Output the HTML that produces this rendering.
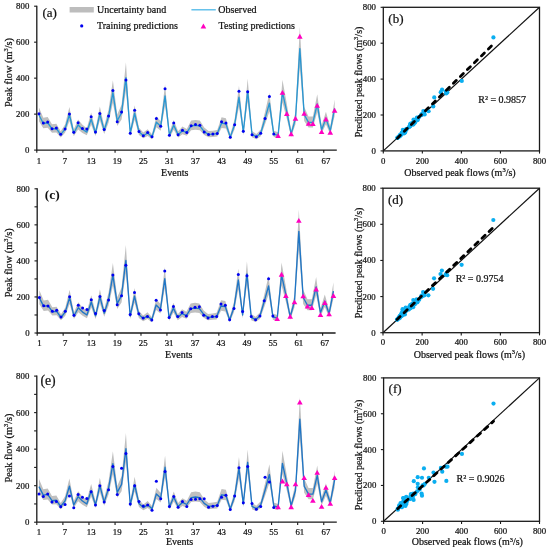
<!DOCTYPE html>
<html><head><meta charset="utf-8"><title>Peak flow predictions</title>
<style>html,body{margin:0;padding:0;background:#fff;}svg{display:block;}</style></head>
<body><svg width="548" height="550" viewBox="0 0 548 550" font-family="'Liberation Serif','Times New Roman',serif" fill="#111">
<style>text{stroke:#111;stroke-width:0.22px;}</style>
<rect width="548" height="550" fill="#fff"/>
<polygon fill="#c0c0c0" points="38.97,107.48 43.32,117.75 47.67,116.88 52.02,124.31 56.37,123.87 60.71,131.3 65.06,124.53 69.41,107.05 73.76,129.56 78.1,119.5 82.45,124.75 86.8,128.25 91.15,112.51 95.5,129.34 99.84,106.39 104.19,126.06 108.54,109.67 112.89,80.16 117.23,114.48 121.58,104.86 125.93,62.24 130.28,129.56 134.63,105.3 138.97,127.81 143.32,132.62 147.67,129.34 152.02,134.15 156.37,116.23 160.71,121.25 165.06,84.32 169.41,131.96 173.76,119.94 178.1,131.3 182.45,126.5 186.8,128.9 191.15,120.6 195.5,119.94 199.84,120.6 204.19,127.59 208.54,131.09 212.89,130.65 217.23,129.99 221.58,117.32 225.93,118.19 230.28,134.36 234.63,119.28 238.97,85.85 243.32,128.25 247.67,78.42 252.02,131.09 256.37,133.93 260.71,129.56 265.06,111.85 269.41,93.06 273.76,130.65 278.1,132.18 282.45,79.73 286.8,103.77 291.15,130.43 295.5,111.85 299.84,26.84 304.19,107.05 308.54,116.44 312.89,116.44 317.23,94.15 321.58,125.62 325.93,111.64 330.28,126.72 334.63,99.4 334.63,115.88 330.28,134.32 325.93,124.14 321.58,133.58 317.23,112.34 312.89,127.39 308.54,127.39 304.19,121.04 299.84,66.91 295.5,124.29 291.15,136.83 286.8,118.83 282.45,102.61 278.1,138.01 273.76,136.97 269.41,111.6 265.06,124.29 260.71,136.24 256.37,139.19 252.02,137.27 247.67,101.72 243.32,135.35 238.97,106.74 234.63,129.3 230.28,139.48 225.93,128.57 221.58,127.98 217.23,136.53 212.89,136.97 208.54,137.27 204.19,134.91 199.84,130.19 195.5,129.75 191.15,130.19 186.8,135.79 182.45,134.17 178.1,137.42 173.76,129.75 169.41,137.86 165.06,105.7 160.71,130.63 156.37,127.24 152.02,139.33 147.67,136.09 143.32,138.3 138.97,135.06 134.63,119.86 130.28,136.24 125.93,90.81 121.58,119.57 117.23,126.06 112.89,102.9 108.54,122.81 104.19,133.88 99.84,120.6 95.5,136.09 91.15,124.73 86.8,135.35 82.45,132.99 78.1,129.45 73.76,136.24 69.41,121.04 65.06,132.84 60.71,137.42 56.37,132.4 52.02,132.7 47.67,127.68 43.32,128.27 38.97,121.34"/>
<polyline fill="none" stroke="#2896d2" stroke-width="1.35" stroke-linejoin="round" points="38.97,115.02 43.32,123.48 47.67,122.76 52.02,128.87 56.37,128.51 60.71,134.63 65.06,129.05 69.41,114.66 73.76,133.19 78.1,124.92 82.45,129.23 86.8,132.11 91.15,119.16 95.5,133.01 99.84,114.12 104.19,130.31 108.54,116.82 112.89,92.54 117.23,120.78 121.58,112.87 125.93,77.79 130.28,133.19 134.63,113.23 138.97,131.75 143.32,135.71 147.67,133.01 152.02,136.97 156.37,122.22 160.71,126.36 165.06,95.96 169.41,135.17 173.76,125.28 178.1,134.63 182.45,130.67 186.8,132.65 191.15,125.82 195.5,125.28 199.84,125.82 204.19,131.57 208.54,134.45 212.89,134.09 217.23,133.55 221.58,123.12 225.93,123.84 230.28,137.15 234.63,124.74 238.97,97.22 243.32,132.11 247.67,91.1 252.02,134.45 256.37,136.79 260.71,133.19 265.06,118.62 269.41,103.15 273.76,134.09 278.1,135.35 282.45,92.18 286.8,111.97 291.15,133.91 295.5,118.62 299.84,48.65 304.19,114.66 308.54,122.4 312.89,122.4 317.23,104.05 321.58,129.95 325.93,118.44 330.28,130.85 334.63,108.37"/>
<circle cx="38.97" cy="113.77" r="1.5" fill="#0000f0"/>
<circle cx="43.32" cy="122.94" r="1.5" fill="#0000f0"/>
<circle cx="47.67" cy="122.04" r="1.5" fill="#0000f0"/>
<circle cx="52.02" cy="128.69" r="1.5" fill="#0000f0"/>
<circle cx="56.37" cy="127.98" r="1.5" fill="#0000f0"/>
<circle cx="60.71" cy="134.27" r="1.5" fill="#0000f0"/>
<circle cx="65.06" cy="129.05" r="1.5" fill="#0000f0"/>
<circle cx="69.41" cy="114.12" r="1.5" fill="#0000f0"/>
<circle cx="73.76" cy="132.29" r="1.5" fill="#0000f0"/>
<circle cx="78.1" cy="122.76" r="1.5" fill="#0000f0"/>
<circle cx="82.45" cy="128.51" r="1.5" fill="#0000f0"/>
<circle cx="86.8" cy="129.05" r="1.5" fill="#0000f0"/>
<circle cx="91.15" cy="116.82" r="1.5" fill="#0000f0"/>
<circle cx="95.5" cy="132.11" r="1.5" fill="#0000f0"/>
<circle cx="99.84" cy="113.41" r="1.5" fill="#0000f0"/>
<circle cx="104.19" cy="129.59" r="1.5" fill="#0000f0"/>
<circle cx="108.54" cy="115.92" r="1.5" fill="#0000f0"/>
<circle cx="112.89" cy="90.56" r="1.5" fill="#0000f0"/>
<circle cx="117.23" cy="121.68" r="1.5" fill="#0000f0"/>
<circle cx="121.58" cy="111.97" r="1.5" fill="#0000f0"/>
<circle cx="125.93" cy="79.95" r="1.5" fill="#0000f0"/>
<circle cx="130.28" cy="133.19" r="1.5" fill="#0000f0"/>
<circle cx="134.63" cy="110.17" r="1.5" fill="#0000f0"/>
<circle cx="138.97" cy="131.57" r="1.5" fill="#0000f0"/>
<circle cx="143.32" cy="135.71" r="1.5" fill="#0000f0"/>
<circle cx="147.67" cy="132.47" r="1.5" fill="#0000f0"/>
<circle cx="152.02" cy="136.79" r="1.5" fill="#0000f0"/>
<circle cx="156.37" cy="118.62" r="1.5" fill="#0000f0"/>
<circle cx="160.71" cy="126.36" r="1.5" fill="#0000f0"/>
<circle cx="165.06" cy="88.76" r="1.5" fill="#0000f0"/>
<circle cx="169.41" cy="135.17" r="1.5" fill="#0000f0"/>
<circle cx="173.76" cy="123.12" r="1.5" fill="#0000f0"/>
<circle cx="178.1" cy="134.63" r="1.5" fill="#0000f0"/>
<circle cx="182.45" cy="130.13" r="1.5" fill="#0000f0"/>
<circle cx="186.8" cy="132.47" r="1.5" fill="#0000f0"/>
<circle cx="191.15" cy="125.64" r="1.5" fill="#0000f0"/>
<circle cx="195.5" cy="124.56" r="1.5" fill="#0000f0"/>
<circle cx="199.84" cy="125.28" r="1.5" fill="#0000f0"/>
<circle cx="204.19" cy="131.93" r="1.5" fill="#0000f0"/>
<circle cx="208.54" cy="134.45" r="1.5" fill="#0000f0"/>
<circle cx="212.89" cy="133.91" r="1.5" fill="#0000f0"/>
<circle cx="217.23" cy="133.55" r="1.5" fill="#0000f0"/>
<circle cx="221.58" cy="121.68" r="1.5" fill="#0000f0"/>
<circle cx="225.93" cy="122.94" r="1.5" fill="#0000f0"/>
<circle cx="230.28" cy="137.15" r="1.5" fill="#0000f0"/>
<circle cx="234.63" cy="124.74" r="1.5" fill="#0000f0"/>
<circle cx="238.97" cy="91.28" r="1.5" fill="#0000f0"/>
<circle cx="243.32" cy="131.21" r="1.5" fill="#0000f0"/>
<circle cx="247.67" cy="91.64" r="1.5" fill="#0000f0"/>
<circle cx="252.02" cy="134.81" r="1.5" fill="#0000f0"/>
<circle cx="256.37" cy="136.79" r="1.5" fill="#0000f0"/>
<circle cx="260.71" cy="133.19" r="1.5" fill="#0000f0"/>
<circle cx="265.06" cy="118.62" r="1.5" fill="#0000f0"/>
<circle cx="269.41" cy="96.5" r="1.5" fill="#0000f0"/>
<circle cx="273.76" cy="133.91" r="1.5" fill="#0000f0"/>
<polygon fill="#ff00c0" points="278.1,133.11 280.9,138.01 275.3,138.01"/>
<polygon fill="#ff00c0" points="282.45,89.94 285.25,94.84 279.65,94.84"/>
<polygon fill="#ff00c0" points="286.8,110.99 289.6,115.89 284,115.89"/>
<polygon fill="#ff00c0" points="291.15,131.31 293.95,136.21 288.35,136.21"/>
<polygon fill="#ff00c0" points="295.5,115.84 298.3,120.74 292.7,120.74"/>
<polygon fill="#ff00c0" points="299.84,33.82 302.64,38.72 297.04,38.72"/>
<polygon fill="#ff00c0" points="304.19,110.81 306.99,115.71 301.39,115.71"/>
<polygon fill="#ff00c0" points="308.54,120.88 311.34,125.78 305.74,125.78"/>
<polygon fill="#ff00c0" points="312.89,121.06 315.69,125.96 310.09,125.96"/>
<polygon fill="#ff00c0" points="317.23,102.89 320.03,107.79 314.43,107.79"/>
<polygon fill="#ff00c0" points="321.58,129.15 324.38,134.05 318.78,134.05"/>
<polygon fill="#ff00c0" points="325.93,116.56 328.73,121.46 323.13,121.46"/>
<polygon fill="#ff00c0" points="330.28,129.87 333.08,134.77 327.48,134.77"/>
<polygon fill="#ff00c0" points="334.63,107.75 337.43,112.65 331.83,112.65"/>
<path d="M36.8 5.7V150.1H336.8" fill="none" stroke="#1a1a1a" stroke-width="1.3"/>
<line x1="34.1" y1="150.1" x2="36.8" y2="150.1" stroke="#1a1a1a" stroke-width="1.1"/>
<text x="29.3" y="153.1" text-anchor="end" font-size="8.8">0</text>
<line x1="34.1" y1="114.12" x2="36.8" y2="114.12" stroke="#1a1a1a" stroke-width="1.1"/>
<text x="29.3" y="117.12" text-anchor="end" font-size="8.8">200</text>
<line x1="34.1" y1="78.15" x2="36.8" y2="78.15" stroke="#1a1a1a" stroke-width="1.1"/>
<text x="29.3" y="81.15" text-anchor="end" font-size="8.8">400</text>
<line x1="34.1" y1="42.17" x2="36.8" y2="42.17" stroke="#1a1a1a" stroke-width="1.1"/>
<text x="29.3" y="45.17" text-anchor="end" font-size="8.8">600</text>
<line x1="34.1" y1="6.2" x2="36.8" y2="6.2" stroke="#1a1a1a" stroke-width="1.1"/>
<text x="29.3" y="9.2" text-anchor="end" font-size="8.8">800</text>
<line x1="36.8" y1="150.1" x2="36.8" y2="152.8" stroke="#1a1a1a" stroke-width="1.1"/>
<text x="38.97" y="163.5" text-anchor="middle" font-size="8.8">1</text>
<line x1="62.89" y1="150.1" x2="62.89" y2="152.8" stroke="#1a1a1a" stroke-width="1.1"/>
<text x="65.06" y="163.5" text-anchor="middle" font-size="8.8">7</text>
<line x1="88.97" y1="150.1" x2="88.97" y2="152.8" stroke="#1a1a1a" stroke-width="1.1"/>
<text x="91.15" y="163.5" text-anchor="middle" font-size="8.8">13</text>
<line x1="115.06" y1="150.1" x2="115.06" y2="152.8" stroke="#1a1a1a" stroke-width="1.1"/>
<text x="117.23" y="163.5" text-anchor="middle" font-size="8.8">19</text>
<line x1="141.15" y1="150.1" x2="141.15" y2="152.8" stroke="#1a1a1a" stroke-width="1.1"/>
<text x="143.32" y="163.5" text-anchor="middle" font-size="8.8">25</text>
<line x1="167.23" y1="150.1" x2="167.23" y2="152.8" stroke="#1a1a1a" stroke-width="1.1"/>
<text x="169.41" y="163.5" text-anchor="middle" font-size="8.8">31</text>
<line x1="193.32" y1="150.1" x2="193.32" y2="152.8" stroke="#1a1a1a" stroke-width="1.1"/>
<text x="195.5" y="163.5" text-anchor="middle" font-size="8.8">37</text>
<line x1="219.41" y1="150.1" x2="219.41" y2="152.8" stroke="#1a1a1a" stroke-width="1.1"/>
<text x="221.58" y="163.5" text-anchor="middle" font-size="8.8">43</text>
<line x1="245.5" y1="150.1" x2="245.5" y2="152.8" stroke="#1a1a1a" stroke-width="1.1"/>
<text x="247.67" y="163.5" text-anchor="middle" font-size="8.8">49</text>
<line x1="271.58" y1="150.1" x2="271.58" y2="152.8" stroke="#1a1a1a" stroke-width="1.1"/>
<text x="273.76" y="163.5" text-anchor="middle" font-size="8.8">55</text>
<line x1="297.67" y1="150.1" x2="297.67" y2="152.8" stroke="#1a1a1a" stroke-width="1.1"/>
<text x="299.84" y="163.5" text-anchor="middle" font-size="8.8">61</text>
<line x1="323.76" y1="150.1" x2="323.76" y2="152.8" stroke="#1a1a1a" stroke-width="1.1"/>
<text x="325.93" y="163.5" text-anchor="middle" font-size="8.8">67</text>
<text x="174.7" y="175.7" text-anchor="middle" font-size="10">Events</text>
<text transform="translate(11.8,72.5) rotate(-90)" text-anchor="middle" font-size="10.3">Peak flow (m<tspan font-size="6.5" dy="-3.5">3</tspan><tspan dy="3.5">/s)</tspan></text>
<text x="42.4" y="16.9" font-size="13">(a)</text>
<polygon fill="#c0c0c0" points="39.36,290.29 43.69,300.59 48.01,299.71 52.34,307.16 56.66,306.72 60.99,314.17 65.31,307.38 69.63,289.86 73.96,312.41 78.28,302.34 82.61,307.6 86.93,311.1 91.26,295.33 95.58,312.19 99.91,289.2 104.23,308.91 108.56,292.48 112.88,262.92 117.21,297.3 121.53,287.67 125.86,244.96 130.18,312.41 134.5,288.1 138.83,310.66 143.15,315.48 147.48,312.19 151.8,317.01 156.13,299.05 160.45,304.09 164.78,267.08 169.1,314.82 173.43,302.78 177.75,314.17 182.08,309.35 186.4,311.76 190.72,303.43 195.05,302.78 199.37,303.43 203.7,310.44 208.02,313.95 212.35,313.51 216.67,312.85 221,300.15 225.32,301.03 229.65,317.23 233.97,302.12 238.3,268.61 242.62,311.1 246.94,261.17 251.27,313.95 255.59,316.79 259.92,312.41 264.24,294.67 268.57,275.84 272.89,313.51 277.22,315.04 281.54,262.48 285.87,286.57 290.19,313.29 294.52,294.67 298.84,209.48 303.17,289.86 307.49,299.27 311.81,299.27 316.14,276.94 320.46,308.47 324.79,294.46 329.11,309.57 333.44,282.19 333.44,298.71 329.11,317.18 324.79,306.99 320.46,316.45 316.14,295.16 311.81,310.24 307.49,310.24 303.17,303.88 298.84,249.64 294.52,307.13 290.19,319.7 285.87,301.67 281.54,285.41 277.22,320.88 272.89,319.85 268.57,294.42 264.24,307.13 259.92,319.11 255.59,322.06 251.27,320.14 246.94,284.52 242.62,318.22 238.3,289.55 233.97,312.16 229.65,322.36 225.32,311.42 221,310.83 216.67,319.4 212.35,319.85 208.02,320.14 203.7,317.78 199.37,313.05 195.05,312.6 190.72,313.05 186.4,318.66 182.08,317.04 177.75,320.29 173.43,312.6 169.1,320.73 164.78,288.51 160.45,313.49 156.13,310.09 151.8,322.21 147.48,318.96 143.15,321.18 138.83,317.92 134.5,302.7 130.18,319.11 125.86,273.58 121.53,302.4 117.21,308.91 112.88,285.7 108.56,305.66 104.23,316.74 99.91,303.44 95.58,318.96 91.26,307.58 86.93,318.22 82.61,315.85 78.28,312.31 73.96,319.11 69.63,303.88 65.31,315.71 60.99,320.29 56.66,315.26 52.34,315.56 48.01,310.53 43.69,311.12 39.36,304.18"/>
<polyline fill="none" stroke="#1f76c6" stroke-width="1.35" stroke-linejoin="round" points="39.36,297.85 43.69,306.32 48.01,305.6 52.34,311.73 56.66,311.37 60.99,317.5 65.31,311.91 69.63,297.49 73.96,316.06 78.28,307.76 82.61,312.09 86.93,314.98 91.26,302 95.58,315.88 99.91,296.95 104.23,313.17 108.56,299.65 112.88,275.32 117.21,303.62 121.53,295.69 125.86,260.54 130.18,316.06 134.5,296.05 138.83,314.61 143.15,318.58 147.48,315.88 151.8,319.84 156.13,305.06 160.45,309.21 164.78,278.74 169.1,318.04 173.43,308.13 177.75,317.5 182.08,313.53 186.4,315.52 190.72,308.67 195.05,308.13 199.37,308.67 203.7,314.43 208.02,317.32 212.35,316.96 216.67,316.42 221,305.96 225.32,306.68 229.65,320.02 233.97,307.58 238.3,280.01 242.62,314.98 246.94,273.88 251.27,317.32 255.59,319.66 259.92,316.06 264.24,301.46 268.57,285.95 272.89,316.96 277.22,318.22 281.54,274.96 285.87,294.79 290.19,316.78 294.52,301.46 298.84,231.34 303.17,297.49 307.49,305.24 311.81,305.24 316.14,286.86 320.46,312.81 324.79,301.28 329.11,313.71 333.44,291.18"/>
<circle cx="39.36" cy="297.49" r="1.5" fill="#0000f0"/>
<circle cx="43.69" cy="305.78" r="1.5" fill="#0000f0"/>
<circle cx="48.01" cy="305.96" r="1.5" fill="#0000f0"/>
<circle cx="52.34" cy="311.19" r="1.5" fill="#0000f0"/>
<circle cx="56.66" cy="310.29" r="1.5" fill="#0000f0"/>
<circle cx="60.99" cy="316.96" r="1.5" fill="#0000f0"/>
<circle cx="65.31" cy="311.19" r="1.5" fill="#0000f0"/>
<circle cx="69.63" cy="296.77" r="1.5" fill="#0000f0"/>
<circle cx="73.96" cy="315.16" r="1.5" fill="#0000f0"/>
<circle cx="78.28" cy="305.24" r="1.5" fill="#0000f0"/>
<circle cx="82.61" cy="307.95" r="1.5" fill="#0000f0"/>
<circle cx="86.93" cy="309.57" r="1.5" fill="#0000f0"/>
<circle cx="91.26" cy="299.83" r="1.5" fill="#0000f0"/>
<circle cx="95.58" cy="313.53" r="1.5" fill="#0000f0"/>
<circle cx="99.91" cy="296.41" r="1.5" fill="#0000f0"/>
<circle cx="104.23" cy="310.47" r="1.5" fill="#0000f0"/>
<circle cx="108.56" cy="300.01" r="1.5" fill="#0000f0"/>
<circle cx="112.88" cy="274.96" r="1.5" fill="#0000f0"/>
<circle cx="117.21" cy="304.7" r="1.5" fill="#0000f0"/>
<circle cx="121.53" cy="295.69" r="1.5" fill="#0000f0"/>
<circle cx="125.86" cy="265.23" r="1.5" fill="#0000f0"/>
<circle cx="130.18" cy="314.43" r="1.5" fill="#0000f0"/>
<circle cx="134.5" cy="292.44" r="1.5" fill="#0000f0"/>
<circle cx="138.83" cy="313.71" r="1.5" fill="#0000f0"/>
<circle cx="143.15" cy="318.04" r="1.5" fill="#0000f0"/>
<circle cx="147.48" cy="316.42" r="1.5" fill="#0000f0"/>
<circle cx="151.8" cy="320.02" r="1.5" fill="#0000f0"/>
<circle cx="156.13" cy="300.37" r="1.5" fill="#0000f0"/>
<circle cx="160.45" cy="309.93" r="1.5" fill="#0000f0"/>
<circle cx="164.78" cy="270.99" r="1.5" fill="#0000f0"/>
<circle cx="169.1" cy="317.5" r="1.5" fill="#0000f0"/>
<circle cx="173.43" cy="306.5" r="1.5" fill="#0000f0"/>
<circle cx="177.75" cy="316.42" r="1.5" fill="#0000f0"/>
<circle cx="182.08" cy="312.45" r="1.5" fill="#0000f0"/>
<circle cx="186.4" cy="315.88" r="1.5" fill="#0000f0"/>
<circle cx="190.72" cy="308.85" r="1.5" fill="#0000f0"/>
<circle cx="195.05" cy="307.22" r="1.5" fill="#0000f0"/>
<circle cx="199.37" cy="306.86" r="1.5" fill="#0000f0"/>
<circle cx="203.7" cy="315.16" r="1.5" fill="#0000f0"/>
<circle cx="208.02" cy="318.04" r="1.5" fill="#0000f0"/>
<circle cx="212.35" cy="316.42" r="1.5" fill="#0000f0"/>
<circle cx="216.67" cy="316.42" r="1.5" fill="#0000f0"/>
<circle cx="221" cy="303.98" r="1.5" fill="#0000f0"/>
<circle cx="225.32" cy="305.24" r="1.5" fill="#0000f0"/>
<circle cx="229.65" cy="319.84" r="1.5" fill="#0000f0"/>
<circle cx="233.97" cy="308.49" r="1.5" fill="#0000f0"/>
<circle cx="238.3" cy="274.42" r="1.5" fill="#0000f0"/>
<circle cx="242.62" cy="311.55" r="1.5" fill="#0000f0"/>
<circle cx="246.94" cy="275.68" r="1.5" fill="#0000f0"/>
<circle cx="251.27" cy="316.42" r="1.5" fill="#0000f0"/>
<circle cx="255.59" cy="319.66" r="1.5" fill="#0000f0"/>
<circle cx="259.92" cy="315.88" r="1.5" fill="#0000f0"/>
<circle cx="264.24" cy="300.74" r="1.5" fill="#0000f0"/>
<circle cx="268.57" cy="278.74" r="1.5" fill="#0000f0"/>
<circle cx="272.89" cy="315.88" r="1.5" fill="#0000f0"/>
<polygon fill="#ff00c0" points="277.22,316.16 280.02,321.06 274.42,321.06"/>
<polygon fill="#ff00c0" points="281.54,271.82 284.34,276.72 278.74,276.72"/>
<polygon fill="#ff00c0" points="285.87,293.09 288.67,297.99 283.07,297.99"/>
<polygon fill="#ff00c0" points="290.19,313.82 292.99,318.72 287.39,318.72"/>
<polygon fill="#ff00c0" points="294.52,299.4 297.32,304.3 291.72,304.3"/>
<polygon fill="#ff00c0" points="298.84,217.92 301.64,222.82 296.04,222.82"/>
<polygon fill="#ff00c0" points="303.17,293.45 305.97,298.35 300.37,298.35"/>
<polygon fill="#ff00c0" points="307.49,303.72 310.29,308.62 304.69,308.62"/>
<polygon fill="#ff00c0" points="311.81,304.98 314.61,309.88 309.01,309.88"/>
<polygon fill="#ff00c0" points="316.14,286.6 318.94,291.5 313.34,291.5"/>
<polygon fill="#ff00c0" points="320.46,312.19 323.26,317.09 317.66,317.09"/>
<polygon fill="#ff00c0" points="324.79,300.12 327.59,305.02 321.99,305.02"/>
<polygon fill="#ff00c0" points="329.11,311.47 331.91,316.37 326.31,316.37"/>
<polygon fill="#ff00c0" points="333.44,293.09 336.24,297.99 330.64,297.99"/>
<path d="M37.2 188.3V333H335.6" fill="none" stroke="#1a1a1a" stroke-width="1.3"/>
<line x1="34.5" y1="333" x2="37.2" y2="333" stroke="#1a1a1a" stroke-width="1.1"/>
<text x="29.7" y="336" text-anchor="end" font-size="8.8">0</text>
<line x1="34.5" y1="314.98" x2="37.2" y2="314.98" stroke="#1a1a1a" stroke-width="1.1"/>
<line x1="34.5" y1="296.95" x2="37.2" y2="296.95" stroke="#1a1a1a" stroke-width="1.1"/>
<text x="29.7" y="299.95" text-anchor="end" font-size="8.8">200</text>
<line x1="34.5" y1="278.93" x2="37.2" y2="278.93" stroke="#1a1a1a" stroke-width="1.1"/>
<line x1="34.5" y1="260.9" x2="37.2" y2="260.9" stroke="#1a1a1a" stroke-width="1.1"/>
<text x="29.7" y="263.9" text-anchor="end" font-size="8.8">400</text>
<line x1="34.5" y1="242.88" x2="37.2" y2="242.88" stroke="#1a1a1a" stroke-width="1.1"/>
<line x1="34.5" y1="224.85" x2="37.2" y2="224.85" stroke="#1a1a1a" stroke-width="1.1"/>
<text x="29.7" y="227.85" text-anchor="end" font-size="8.8">600</text>
<line x1="34.5" y1="206.83" x2="37.2" y2="206.83" stroke="#1a1a1a" stroke-width="1.1"/>
<line x1="34.5" y1="188.8" x2="37.2" y2="188.8" stroke="#1a1a1a" stroke-width="1.1"/>
<text x="29.7" y="191.8" text-anchor="end" font-size="8.8">800</text>
<line x1="37.2" y1="333" x2="37.2" y2="335.7" stroke="#1a1a1a" stroke-width="1.1"/>
<text x="39.36" y="345.6" text-anchor="middle" font-size="8.8">1</text>
<line x1="63.15" y1="333" x2="63.15" y2="335.7" stroke="#1a1a1a" stroke-width="1.1"/>
<text x="65.31" y="345.6" text-anchor="middle" font-size="8.8">7</text>
<line x1="89.1" y1="333" x2="89.1" y2="335.7" stroke="#1a1a1a" stroke-width="1.1"/>
<text x="91.26" y="345.6" text-anchor="middle" font-size="8.8">13</text>
<line x1="115.04" y1="333" x2="115.04" y2="335.7" stroke="#1a1a1a" stroke-width="1.1"/>
<text x="117.21" y="345.6" text-anchor="middle" font-size="8.8">19</text>
<line x1="140.99" y1="333" x2="140.99" y2="335.7" stroke="#1a1a1a" stroke-width="1.1"/>
<text x="143.15" y="345.6" text-anchor="middle" font-size="8.8">25</text>
<line x1="166.94" y1="333" x2="166.94" y2="335.7" stroke="#1a1a1a" stroke-width="1.1"/>
<text x="169.1" y="345.6" text-anchor="middle" font-size="8.8">31</text>
<line x1="192.89" y1="333" x2="192.89" y2="335.7" stroke="#1a1a1a" stroke-width="1.1"/>
<text x="195.05" y="345.6" text-anchor="middle" font-size="8.8">37</text>
<line x1="218.83" y1="333" x2="218.83" y2="335.7" stroke="#1a1a1a" stroke-width="1.1"/>
<text x="221" y="345.6" text-anchor="middle" font-size="8.8">43</text>
<line x1="244.78" y1="333" x2="244.78" y2="335.7" stroke="#1a1a1a" stroke-width="1.1"/>
<text x="246.94" y="345.6" text-anchor="middle" font-size="8.8">49</text>
<line x1="270.73" y1="333" x2="270.73" y2="335.7" stroke="#1a1a1a" stroke-width="1.1"/>
<text x="272.89" y="345.6" text-anchor="middle" font-size="8.8">55</text>
<line x1="296.68" y1="333" x2="296.68" y2="335.7" stroke="#1a1a1a" stroke-width="1.1"/>
<text x="298.84" y="345.6" text-anchor="middle" font-size="8.8">61</text>
<line x1="322.63" y1="333" x2="322.63" y2="335.7" stroke="#1a1a1a" stroke-width="1.1"/>
<text x="324.79" y="345.6" text-anchor="middle" font-size="8.8">67</text>
<text x="178.7" y="357.6" text-anchor="middle" font-size="10">Events</text>
<text transform="translate(11.8,262.8) rotate(-90)" text-anchor="middle" font-size="10.3">Peak flow (m<tspan font-size="6.5" dy="-3.5">3</tspan><tspan dy="3.5">/s)</tspan></text>
<text x="44.8" y="199.4" font-size="13.5" font-weight="bold" style="stroke-width:0">(c)</text>
<polygon fill="#c0c0c0" points="38.97,478.93 43.32,489.36 47.67,488.47 52.02,496.02 56.37,495.57 60.71,503.12 65.06,496.24 69.41,478.49 73.76,501.34 78.1,491.14 82.45,496.46 86.8,500.01 91.15,484.04 95.5,501.12 99.84,477.82 104.19,497.79 108.54,481.15 112.89,451.2 117.23,486.03 121.58,476.27 125.93,433 130.28,501.34 134.63,476.71 138.97,499.57 143.32,504.45 147.67,501.12 152.02,506 156.37,487.81 160.71,492.91 165.06,455.41 169.41,503.78 173.76,491.58 178.1,503.12 182.45,498.24 186.8,500.68 191.15,492.24 195.5,491.58 199.84,492.24 204.19,499.35 208.54,502.9 212.89,502.45 217.23,501.79 221.58,488.92 225.93,489.8 230.28,506.22 234.63,490.91 238.97,456.96 243.32,500.01 247.67,449.42 252.02,502.9 256.37,505.78 260.71,501.34 265.06,483.37 269.41,464.29 273.76,502.45 278.1,504.01 282.45,450.75 286.8,475.16 291.15,502.23 295.5,483.37 299.84,397.05 304.19,478.49 308.54,488.03 312.89,488.03 317.23,465.4 321.58,497.35 325.93,483.15 330.28,498.46 334.63,470.72 334.63,487.46 330.28,506.18 325.93,495.84 321.58,505.43 317.23,483.86 312.89,499.14 308.54,499.14 304.19,492.7 299.84,437.74 295.5,495.99 291.15,508.72 286.8,490.45 282.45,473.98 278.1,509.92 273.76,508.87 269.41,483.11 265.06,495.99 260.71,508.12 256.37,511.12 252.02,509.17 247.67,473.08 243.32,507.22 238.97,478.17 234.63,501.08 230.28,511.42 225.93,500.34 221.58,499.74 217.23,508.42 212.89,508.87 208.54,509.17 204.19,506.78 199.84,501.98 195.5,501.53 191.15,501.98 186.8,507.67 182.45,506.03 178.1,509.32 173.76,501.53 169.41,509.77 165.06,477.12 160.71,502.43 156.37,498.99 152.02,511.27 147.67,507.97 143.32,510.22 138.97,506.93 134.63,491.5 130.28,508.12 125.93,462 121.58,491.2 117.23,497.79 112.89,474.28 108.54,494.5 104.19,505.73 99.84,492.25 95.5,507.97 91.15,496.44 86.8,507.22 82.45,504.83 78.1,501.23 73.76,508.12 69.41,492.7 65.06,504.68 60.71,509.32 56.37,504.23 52.02,504.53 47.67,499.44 43.32,500.04 38.97,493"/>
<polyline fill="none" stroke="#1f76c6" stroke-width="1.35" stroke-linejoin="round" points="38.97,486.59 43.32,495.17 47.67,494.44 52.02,500.65 56.37,500.29 60.71,506.49 65.06,500.83 69.41,486.22 73.76,505.03 78.1,496.63 82.45,501.02 86.8,503.94 91.15,490.79 95.5,504.85 99.84,485.68 104.19,502.11 108.54,488.41 112.89,463.76 117.23,492.43 121.58,484.4 125.93,448.78 130.28,505.03 134.63,484.76 138.97,503.57 143.32,507.59 147.67,504.85 152.02,508.87 156.37,493.89 160.71,498.09 165.06,467.23 169.41,507.04 173.76,497 178.1,506.49 182.45,502.48 186.8,504.49 191.15,497.55 195.5,497 199.84,497.55 204.19,503.39 208.54,506.31 212.89,505.95 217.23,505.4 221.58,494.81 225.93,495.54 230.28,509.05 234.63,496.45 238.97,468.51 243.32,503.94 247.67,462.3 252.02,506.31 256.37,508.69 260.71,505.03 265.06,490.24 269.41,474.53 273.76,505.95 278.1,507.22 282.45,463.39 286.8,483.48 291.15,505.76 295.5,490.24 299.84,419.2 304.19,486.22 308.54,494.08 312.89,494.08 317.23,475.45 321.58,501.75 325.93,490.06 330.28,502.66 334.63,479.83"/>
<circle cx="38.97" cy="493.89" r="1.5" fill="#0000f0"/>
<circle cx="43.32" cy="496.45" r="1.5" fill="#0000f0"/>
<circle cx="47.67" cy="493.89" r="1.5" fill="#0000f0"/>
<circle cx="52.02" cy="501.93" r="1.5" fill="#0000f0"/>
<circle cx="56.37" cy="501.56" r="1.5" fill="#0000f0"/>
<circle cx="60.71" cy="506.68" r="1.5" fill="#0000f0"/>
<circle cx="65.06" cy="504.49" r="1.5" fill="#0000f0"/>
<circle cx="69.41" cy="496.08" r="1.5" fill="#0000f0"/>
<circle cx="73.76" cy="507.77" r="1.5" fill="#0000f0"/>
<circle cx="78.1" cy="494.44" r="1.5" fill="#0000f0"/>
<circle cx="82.45" cy="497.18" r="1.5" fill="#0000f0"/>
<circle cx="86.8" cy="498.46" r="1.5" fill="#0000f0"/>
<circle cx="91.15" cy="491.7" r="1.5" fill="#0000f0"/>
<circle cx="95.5" cy="505.03" r="1.5" fill="#0000f0"/>
<circle cx="99.84" cy="485.68" r="1.5" fill="#0000f0"/>
<circle cx="104.19" cy="501.93" r="1.5" fill="#0000f0"/>
<circle cx="108.54" cy="489.69" r="1.5" fill="#0000f0"/>
<circle cx="112.89" cy="466.5" r="1.5" fill="#0000f0"/>
<circle cx="117.23" cy="494.44" r="1.5" fill="#0000f0"/>
<circle cx="121.58" cy="468.33" r="1.5" fill="#0000f0"/>
<circle cx="125.93" cy="453.53" r="1.5" fill="#0000f0"/>
<circle cx="130.28" cy="503.94" r="1.5" fill="#0000f0"/>
<circle cx="134.63" cy="485.68" r="1.5" fill="#0000f0"/>
<circle cx="138.97" cy="501.56" r="1.5" fill="#0000f0"/>
<circle cx="143.32" cy="505.95" r="1.5" fill="#0000f0"/>
<circle cx="147.67" cy="505.03" r="1.5" fill="#0000f0"/>
<circle cx="152.02" cy="510.33" r="1.5" fill="#0000f0"/>
<circle cx="156.37" cy="481.29" r="1.5" fill="#0000f0"/>
<circle cx="160.71" cy="498.82" r="1.5" fill="#0000f0"/>
<circle cx="165.06" cy="471.61" r="1.5" fill="#0000f0"/>
<circle cx="169.41" cy="506.49" r="1.5" fill="#0000f0"/>
<circle cx="173.76" cy="496.45" r="1.5" fill="#0000f0"/>
<circle cx="178.1" cy="507.22" r="1.5" fill="#0000f0"/>
<circle cx="182.45" cy="501.56" r="1.5" fill="#0000f0"/>
<circle cx="186.8" cy="506.49" r="1.5" fill="#0000f0"/>
<circle cx="191.15" cy="499.55" r="1.5" fill="#0000f0"/>
<circle cx="195.5" cy="499.19" r="1.5" fill="#0000f0"/>
<circle cx="199.84" cy="498.82" r="1.5" fill="#0000f0"/>
<circle cx="204.19" cy="498.64" r="1.5" fill="#0000f0"/>
<circle cx="208.54" cy="507.22" r="1.5" fill="#0000f0"/>
<circle cx="212.89" cy="506.13" r="1.5" fill="#0000f0"/>
<circle cx="217.23" cy="505.58" r="1.5" fill="#0000f0"/>
<circle cx="221.58" cy="497.36" r="1.5" fill="#0000f0"/>
<circle cx="225.93" cy="495.17" r="1.5" fill="#0000f0"/>
<circle cx="230.28" cy="509.6" r="1.5" fill="#0000f0"/>
<circle cx="234.63" cy="496.08" r="1.5" fill="#0000f0"/>
<circle cx="238.97" cy="467.78" r="1.5" fill="#0000f0"/>
<circle cx="243.32" cy="502.84" r="1.5" fill="#0000f0"/>
<circle cx="247.67" cy="466.5" r="1.5" fill="#0000f0"/>
<circle cx="252.02" cy="503.57" r="1.5" fill="#0000f0"/>
<circle cx="256.37" cy="509.23" r="1.5" fill="#0000f0"/>
<circle cx="260.71" cy="506.49" r="1.5" fill="#0000f0"/>
<circle cx="265.06" cy="477.27" r="1.5" fill="#0000f0"/>
<circle cx="269.41" cy="482.02" r="1.5" fill="#0000f0"/>
<circle cx="273.76" cy="507.59" r="1.5" fill="#0000f0"/>
<polygon fill="#ff00c0" points="278.1,504.26 280.9,509.16 275.3,509.16"/>
<polygon fill="#ff00c0" points="282.45,478.51 285.25,483.41 279.65,483.41"/>
<polygon fill="#ff00c0" points="286.8,481.43 289.6,486.33 284,486.33"/>
<polygon fill="#ff00c0" points="291.15,504.26 293.95,509.16 288.35,509.16"/>
<polygon fill="#ff00c0" points="295.5,481.43 298.3,486.33 292.7,486.33"/>
<polygon fill="#ff00c0" points="299.84,399.62 302.64,404.52 297.04,404.52"/>
<polygon fill="#ff00c0" points="304.19,475.22 306.99,480.12 301.39,480.12"/>
<polygon fill="#ff00c0" points="308.54,492.21 311.34,497.11 305.74,497.11"/>
<polygon fill="#ff00c0" points="312.89,497.87 315.69,502.77 310.09,502.77"/>
<polygon fill="#ff00c0" points="317.23,469.93 320.03,474.83 314.43,474.83"/>
<polygon fill="#ff00c0" points="321.58,503.89 324.38,508.79 318.78,508.79"/>
<polygon fill="#ff00c0" points="325.93,484.9 328.73,489.8 323.13,489.8"/>
<polygon fill="#ff00c0" points="330.28,500.97 333.08,505.87 327.48,505.87"/>
<polygon fill="#ff00c0" points="334.63,475.22 337.43,480.12 331.83,480.12"/>
<path d="M36.8 375.6V522.2H336.8" fill="none" stroke="#1a1a1a" stroke-width="1.3"/>
<line x1="34.1" y1="522.2" x2="36.8" y2="522.2" stroke="#1a1a1a" stroke-width="1.1"/>
<text x="29.3" y="525.2" text-anchor="end" font-size="8.8">0</text>
<line x1="34.1" y1="503.94" x2="36.8" y2="503.94" stroke="#1a1a1a" stroke-width="1.1"/>
<line x1="34.1" y1="485.68" x2="36.8" y2="485.68" stroke="#1a1a1a" stroke-width="1.1"/>
<text x="29.3" y="488.68" text-anchor="end" font-size="8.8">200</text>
<line x1="34.1" y1="467.41" x2="36.8" y2="467.41" stroke="#1a1a1a" stroke-width="1.1"/>
<line x1="34.1" y1="449.15" x2="36.8" y2="449.15" stroke="#1a1a1a" stroke-width="1.1"/>
<text x="29.3" y="452.15" text-anchor="end" font-size="8.8">400</text>
<line x1="34.1" y1="430.89" x2="36.8" y2="430.89" stroke="#1a1a1a" stroke-width="1.1"/>
<line x1="34.1" y1="412.62" x2="36.8" y2="412.62" stroke="#1a1a1a" stroke-width="1.1"/>
<text x="29.3" y="415.62" text-anchor="end" font-size="8.8">600</text>
<line x1="34.1" y1="394.36" x2="36.8" y2="394.36" stroke="#1a1a1a" stroke-width="1.1"/>
<line x1="34.1" y1="376.1" x2="36.8" y2="376.1" stroke="#1a1a1a" stroke-width="1.1"/>
<text x="29.3" y="379.1" text-anchor="end" font-size="8.8">800</text>
<line x1="36.8" y1="522.2" x2="36.8" y2="524.9" stroke="#1a1a1a" stroke-width="1.1"/>
<text x="38.97" y="534.7" text-anchor="middle" font-size="8.8">1</text>
<line x1="62.89" y1="522.2" x2="62.89" y2="524.9" stroke="#1a1a1a" stroke-width="1.1"/>
<text x="65.06" y="534.7" text-anchor="middle" font-size="8.8">7</text>
<line x1="88.97" y1="522.2" x2="88.97" y2="524.9" stroke="#1a1a1a" stroke-width="1.1"/>
<text x="91.15" y="534.7" text-anchor="middle" font-size="8.8">13</text>
<line x1="115.06" y1="522.2" x2="115.06" y2="524.9" stroke="#1a1a1a" stroke-width="1.1"/>
<text x="117.23" y="534.7" text-anchor="middle" font-size="8.8">19</text>
<line x1="141.15" y1="522.2" x2="141.15" y2="524.9" stroke="#1a1a1a" stroke-width="1.1"/>
<text x="143.32" y="534.7" text-anchor="middle" font-size="8.8">25</text>
<line x1="167.23" y1="522.2" x2="167.23" y2="524.9" stroke="#1a1a1a" stroke-width="1.1"/>
<text x="169.41" y="534.7" text-anchor="middle" font-size="8.8">31</text>
<line x1="193.32" y1="522.2" x2="193.32" y2="524.9" stroke="#1a1a1a" stroke-width="1.1"/>
<text x="195.5" y="534.7" text-anchor="middle" font-size="8.8">37</text>
<line x1="219.41" y1="522.2" x2="219.41" y2="524.9" stroke="#1a1a1a" stroke-width="1.1"/>
<text x="221.58" y="534.7" text-anchor="middle" font-size="8.8">43</text>
<line x1="245.5" y1="522.2" x2="245.5" y2="524.9" stroke="#1a1a1a" stroke-width="1.1"/>
<text x="247.67" y="534.7" text-anchor="middle" font-size="8.8">49</text>
<line x1="271.58" y1="522.2" x2="271.58" y2="524.9" stroke="#1a1a1a" stroke-width="1.1"/>
<text x="273.76" y="534.7" text-anchor="middle" font-size="8.8">55</text>
<line x1="297.67" y1="522.2" x2="297.67" y2="524.9" stroke="#1a1a1a" stroke-width="1.1"/>
<text x="299.84" y="534.7" text-anchor="middle" font-size="8.8">61</text>
<line x1="323.76" y1="522.2" x2="323.76" y2="524.9" stroke="#1a1a1a" stroke-width="1.1"/>
<text x="325.93" y="534.7" text-anchor="middle" font-size="8.8">67</text>
<text x="179.5" y="545.3" text-anchor="middle" font-size="10">Events</text>
<text transform="translate(11.8,448) rotate(-90)" text-anchor="middle" font-size="10.3">Peak flow (m<tspan font-size="6.5" dy="-3.5">3</tspan><tspan dy="3.5">/s)</tspan></text>
<text x="40.4" y="385.4" font-size="13.8">(e)</text>
<rect x="69.6" y="7" width="24.2" height="5.5" fill="#bdbdbd"/>
<text x="97" y="12.8" font-size="10">Uncertainty band</text>
<line x1="191.4" y1="9.8" x2="215.8" y2="9.8" stroke="#4cb8e8" stroke-width="1.3"/>
<text x="218.3" y="12.8" font-size="10">Observed</text>
<circle cx="81.7" cy="25.9" r="1.6" fill="#0000f0"/>
<text x="97" y="28.7" font-size="10">Training predictions</text>
<polygon fill="#ff00c0" points="203.4,23.6 206.2,28.6 200.6,28.6"/>
<text x="218.6" y="28.7" font-size="10">Testing predictions</text>
<line x1="383.3" y1="150.9" x2="539.5" y2="7.3" stroke="#111" stroke-width="1.2"/>
<circle cx="421.37" cy="114.64" r="2.1" fill="#0aaef0"/>
<circle cx="412.2" cy="123.8" r="2.1" fill="#0aaef0"/>
<circle cx="412.98" cy="122.9" r="2.1" fill="#0aaef0"/>
<circle cx="406.34" cy="129.54" r="2.1" fill="#0aaef0"/>
<circle cx="406.73" cy="128.82" r="2.1" fill="#0aaef0"/>
<circle cx="400.09" cy="135.1" r="2.1" fill="#0aaef0"/>
<circle cx="406.14" cy="129.9" r="2.1" fill="#0aaef0"/>
<circle cx="421.76" cy="115" r="2.1" fill="#0aaef0"/>
<circle cx="401.65" cy="133.13" r="2.1" fill="#0aaef0"/>
<circle cx="410.63" cy="123.62" r="2.1" fill="#0aaef0"/>
<circle cx="405.95" cy="129.36" r="2.1" fill="#0aaef0"/>
<circle cx="402.82" cy="129.9" r="2.1" fill="#0aaef0"/>
<circle cx="416.88" cy="117.69" r="2.1" fill="#0aaef0"/>
<circle cx="401.85" cy="132.95" r="2.1" fill="#0aaef0"/>
<circle cx="422.35" cy="114.28" r="2.1" fill="#0aaef0"/>
<circle cx="404.78" cy="130.44" r="2.1" fill="#0aaef0"/>
<circle cx="419.42" cy="116.8" r="2.1" fill="#0aaef0"/>
<circle cx="445.78" cy="91.49" r="2.1" fill="#0aaef0"/>
<circle cx="415.13" cy="122.54" r="2.1" fill="#0aaef0"/>
<circle cx="423.72" cy="112.85" r="2.1" fill="#0aaef0"/>
<circle cx="461.79" cy="80.9" r="2.1" fill="#0aaef0"/>
<circle cx="401.65" cy="134.03" r="2.1" fill="#0aaef0"/>
<circle cx="423.33" cy="111.05" r="2.1" fill="#0aaef0"/>
<circle cx="403.22" cy="132.41" r="2.1" fill="#0aaef0"/>
<circle cx="398.92" cy="136.54" r="2.1" fill="#0aaef0"/>
<circle cx="401.85" cy="133.31" r="2.1" fill="#0aaef0"/>
<circle cx="397.55" cy="137.62" r="2.1" fill="#0aaef0"/>
<circle cx="413.56" cy="119.49" r="2.1" fill="#0aaef0"/>
<circle cx="409.07" cy="127.21" r="2.1" fill="#0aaef0"/>
<circle cx="442.07" cy="89.69" r="2.1" fill="#0aaef0"/>
<circle cx="399.51" cy="136" r="2.1" fill="#0aaef0"/>
<circle cx="410.24" cy="123.98" r="2.1" fill="#0aaef0"/>
<circle cx="400.09" cy="135.46" r="2.1" fill="#0aaef0"/>
<circle cx="404.39" cy="130.98" r="2.1" fill="#0aaef0"/>
<circle cx="402.24" cy="133.31" r="2.1" fill="#0aaef0"/>
<circle cx="409.66" cy="126.49" r="2.1" fill="#0aaef0"/>
<circle cx="410.24" cy="125.41" r="2.1" fill="#0aaef0"/>
<circle cx="409.66" cy="126.13" r="2.1" fill="#0aaef0"/>
<circle cx="403.41" cy="132.77" r="2.1" fill="#0aaef0"/>
<circle cx="400.29" cy="135.28" r="2.1" fill="#0aaef0"/>
<circle cx="400.68" cy="134.75" r="2.1" fill="#0aaef0"/>
<circle cx="401.26" cy="134.39" r="2.1" fill="#0aaef0"/>
<circle cx="412.59" cy="122.54" r="2.1" fill="#0aaef0"/>
<circle cx="411.81" cy="123.8" r="2.1" fill="#0aaef0"/>
<circle cx="397.36" cy="137.98" r="2.1" fill="#0aaef0"/>
<circle cx="410.83" cy="125.59" r="2.1" fill="#0aaef0"/>
<circle cx="440.7" cy="92.2" r="2.1" fill="#0aaef0"/>
<circle cx="402.82" cy="132.05" r="2.1" fill="#0aaef0"/>
<circle cx="447.34" cy="92.56" r="2.1" fill="#0aaef0"/>
<circle cx="400.29" cy="135.64" r="2.1" fill="#0aaef0"/>
<circle cx="397.75" cy="137.62" r="2.1" fill="#0aaef0"/>
<circle cx="401.65" cy="134.03" r="2.1" fill="#0aaef0"/>
<circle cx="417.47" cy="119.49" r="2.1" fill="#0aaef0"/>
<circle cx="434.26" cy="97.41" r="2.1" fill="#0aaef0"/>
<circle cx="400.68" cy="134.75" r="2.1" fill="#0aaef0"/>
<circle cx="399.31" cy="136.54" r="2.1" fill="#0aaef0"/>
<circle cx="446.17" cy="93.46" r="2.1" fill="#0aaef0"/>
<circle cx="424.69" cy="114.46" r="2.1" fill="#0aaef0"/>
<circle cx="400.87" cy="134.75" r="2.1" fill="#0aaef0"/>
<circle cx="417.47" cy="119.31" r="2.1" fill="#0aaef0"/>
<circle cx="493.42" cy="37.46" r="2.1" fill="#0aaef0"/>
<circle cx="421.76" cy="114.28" r="2.1" fill="#0aaef0"/>
<circle cx="413.37" cy="124.33" r="2.1" fill="#0aaef0"/>
<circle cx="413.37" cy="124.51" r="2.1" fill="#0aaef0"/>
<circle cx="433.28" cy="106.38" r="2.1" fill="#0aaef0"/>
<circle cx="405.17" cy="132.59" r="2.1" fill="#0aaef0"/>
<circle cx="417.66" cy="120.03" r="2.1" fill="#0aaef0"/>
<circle cx="404.19" cy="133.31" r="2.1" fill="#0aaef0"/>
<circle cx="428.6" cy="111.23" r="2.1" fill="#0aaef0"/>
<line x1="397.36" y1="138.16" x2="493.42" y2="44.1" stroke="#000" stroke-width="2.8" stroke-dasharray="4.2 5.6" stroke-linecap="round"/>
<rect x="383.3" y="7.3" width="156.2" height="143.6" fill="none" stroke="#1a1a1a" stroke-width="1.3"/>
<line x1="380.6" y1="150.9" x2="383.3" y2="150.9" stroke="#1a1a1a" stroke-width="1.1"/>
<text x="376" y="153.9" text-anchor="end" font-size="8.8">0</text>
<line x1="383.3" y1="150.9" x2="383.3" y2="153.6" stroke="#1a1a1a" stroke-width="1.1"/>
<text x="383.3" y="164.2" text-anchor="middle" font-size="8.8">0</text>
<line x1="380.6" y1="115" x2="383.3" y2="115" stroke="#1a1a1a" stroke-width="1.1"/>
<text x="376" y="118" text-anchor="end" font-size="8.8">200</text>
<line x1="422.35" y1="150.9" x2="422.35" y2="153.6" stroke="#1a1a1a" stroke-width="1.1"/>
<text x="422.35" y="164.2" text-anchor="middle" font-size="8.8">200</text>
<line x1="380.6" y1="79.1" x2="383.3" y2="79.1" stroke="#1a1a1a" stroke-width="1.1"/>
<text x="376" y="82.1" text-anchor="end" font-size="8.8">400</text>
<line x1="461.4" y1="150.9" x2="461.4" y2="153.6" stroke="#1a1a1a" stroke-width="1.1"/>
<text x="461.4" y="164.2" text-anchor="middle" font-size="8.8">400</text>
<line x1="380.6" y1="43.2" x2="383.3" y2="43.2" stroke="#1a1a1a" stroke-width="1.1"/>
<text x="376" y="46.2" text-anchor="end" font-size="8.8">600</text>
<line x1="500.45" y1="150.9" x2="500.45" y2="153.6" stroke="#1a1a1a" stroke-width="1.1"/>
<text x="500.45" y="164.2" text-anchor="middle" font-size="8.8">600</text>
<line x1="380.6" y1="7.3" x2="383.3" y2="7.3" stroke="#1a1a1a" stroke-width="1.1"/>
<text x="376" y="10.3" text-anchor="end" font-size="8.8">800</text>
<line x1="539.5" y1="150.9" x2="539.5" y2="153.6" stroke="#1a1a1a" stroke-width="1.1"/>
<text x="539.5" y="164.2" text-anchor="middle" font-size="8.8">800</text>
<text x="460" y="175.6" text-anchor="middle" font-size="10">Observed peak flows (m<tspan font-size="6.5" dy="-3.5">3</tspan><tspan dy="3.5">/s)</tspan></text>
<text transform="translate(361.9,82) rotate(-90)" text-anchor="middle" font-size="10">Predicted peak flows (m<tspan font-size="6.5" dy="-3.5">3</tspan><tspan dy="3.5">/s)</tspan></text>
<text x="478.3" y="102.9" font-size="10">R² = 0.9857</text>
<text x="388.3" y="22.6" font-size="13">(b)</text>
<line x1="383" y1="332.7" x2="539.5" y2="188.2" stroke="#111" stroke-width="1.2"/>
<circle cx="421.15" cy="297.12" r="2.1" fill="#0aaef0"/>
<circle cx="411.95" cy="305.43" r="2.1" fill="#0aaef0"/>
<circle cx="412.74" cy="305.61" r="2.1" fill="#0aaef0"/>
<circle cx="406.08" cy="310.84" r="2.1" fill="#0aaef0"/>
<circle cx="406.48" cy="309.94" r="2.1" fill="#0aaef0"/>
<circle cx="399.82" cy="316.62" r="2.1" fill="#0aaef0"/>
<circle cx="405.89" cy="310.84" r="2.1" fill="#0aaef0"/>
<circle cx="421.54" cy="296.39" r="2.1" fill="#0aaef0"/>
<circle cx="401.39" cy="314.82" r="2.1" fill="#0aaef0"/>
<circle cx="410.39" cy="304.88" r="2.1" fill="#0aaef0"/>
<circle cx="405.69" cy="307.59" r="2.1" fill="#0aaef0"/>
<circle cx="402.56" cy="309.22" r="2.1" fill="#0aaef0"/>
<circle cx="416.65" cy="299.46" r="2.1" fill="#0aaef0"/>
<circle cx="401.58" cy="313.19" r="2.1" fill="#0aaef0"/>
<circle cx="422.12" cy="296.03" r="2.1" fill="#0aaef0"/>
<circle cx="404.52" cy="310.12" r="2.1" fill="#0aaef0"/>
<circle cx="419.19" cy="299.65" r="2.1" fill="#0aaef0"/>
<circle cx="445.6" cy="274.54" r="2.1" fill="#0aaef0"/>
<circle cx="414.89" cy="304.34" r="2.1" fill="#0aaef0"/>
<circle cx="423.49" cy="295.31" r="2.1" fill="#0aaef0"/>
<circle cx="461.64" cy="264.78" r="2.1" fill="#0aaef0"/>
<circle cx="401.39" cy="314.1" r="2.1" fill="#0aaef0"/>
<circle cx="423.1" cy="292.06" r="2.1" fill="#0aaef0"/>
<circle cx="402.95" cy="313.37" r="2.1" fill="#0aaef0"/>
<circle cx="398.65" cy="317.71" r="2.1" fill="#0aaef0"/>
<circle cx="401.58" cy="316.08" r="2.1" fill="#0aaef0"/>
<circle cx="397.28" cy="319.69" r="2.1" fill="#0aaef0"/>
<circle cx="413.32" cy="300.01" r="2.1" fill="#0aaef0"/>
<circle cx="408.82" cy="309.58" r="2.1" fill="#0aaef0"/>
<circle cx="441.88" cy="270.56" r="2.1" fill="#0aaef0"/>
<circle cx="399.24" cy="317.17" r="2.1" fill="#0aaef0"/>
<circle cx="410" cy="306.15" r="2.1" fill="#0aaef0"/>
<circle cx="399.82" cy="316.08" r="2.1" fill="#0aaef0"/>
<circle cx="404.13" cy="312.11" r="2.1" fill="#0aaef0"/>
<circle cx="401.98" cy="315.54" r="2.1" fill="#0aaef0"/>
<circle cx="409.41" cy="308.5" r="2.1" fill="#0aaef0"/>
<circle cx="410" cy="306.87" r="2.1" fill="#0aaef0"/>
<circle cx="409.41" cy="306.51" r="2.1" fill="#0aaef0"/>
<circle cx="403.15" cy="314.82" r="2.1" fill="#0aaef0"/>
<circle cx="400.02" cy="317.71" r="2.1" fill="#0aaef0"/>
<circle cx="400.41" cy="316.08" r="2.1" fill="#0aaef0"/>
<circle cx="401" cy="316.08" r="2.1" fill="#0aaef0"/>
<circle cx="412.34" cy="303.62" r="2.1" fill="#0aaef0"/>
<circle cx="411.56" cy="304.88" r="2.1" fill="#0aaef0"/>
<circle cx="397.08" cy="319.51" r="2.1" fill="#0aaef0"/>
<circle cx="410.58" cy="308.13" r="2.1" fill="#0aaef0"/>
<circle cx="440.51" cy="274" r="2.1" fill="#0aaef0"/>
<circle cx="402.56" cy="311.21" r="2.1" fill="#0aaef0"/>
<circle cx="447.17" cy="275.26" r="2.1" fill="#0aaef0"/>
<circle cx="400.02" cy="316.08" r="2.1" fill="#0aaef0"/>
<circle cx="397.48" cy="319.33" r="2.1" fill="#0aaef0"/>
<circle cx="401.39" cy="315.54" r="2.1" fill="#0aaef0"/>
<circle cx="417.23" cy="300.37" r="2.1" fill="#0aaef0"/>
<circle cx="434.06" cy="278.33" r="2.1" fill="#0aaef0"/>
<circle cx="400.41" cy="315.54" r="2.1" fill="#0aaef0"/>
<circle cx="399.04" cy="318.43" r="2.1" fill="#0aaef0"/>
<circle cx="445.99" cy="274" r="2.1" fill="#0aaef0"/>
<circle cx="424.47" cy="295.31" r="2.1" fill="#0aaef0"/>
<circle cx="400.61" cy="316.08" r="2.1" fill="#0aaef0"/>
<circle cx="417.23" cy="301.63" r="2.1" fill="#0aaef0"/>
<circle cx="493.33" cy="219.99" r="2.1" fill="#0aaef0"/>
<circle cx="421.54" cy="295.67" r="2.1" fill="#0aaef0"/>
<circle cx="413.13" cy="305.97" r="2.1" fill="#0aaef0"/>
<circle cx="413.13" cy="307.23" r="2.1" fill="#0aaef0"/>
<circle cx="433.08" cy="288.81" r="2.1" fill="#0aaef0"/>
<circle cx="404.91" cy="314.46" r="2.1" fill="#0aaef0"/>
<circle cx="417.43" cy="302.36" r="2.1" fill="#0aaef0"/>
<circle cx="403.93" cy="313.73" r="2.1" fill="#0aaef0"/>
<circle cx="428.38" cy="295.31" r="2.1" fill="#0aaef0"/>
<line x1="397.08" y1="319.51" x2="493.33" y2="227.4" stroke="#000" stroke-width="2.8" stroke-dasharray="4.2 5.6" stroke-linecap="round"/>
<rect x="383" y="188.2" width="156.5" height="144.5" fill="none" stroke="#1a1a1a" stroke-width="1.3"/>
<line x1="380.3" y1="332.7" x2="383" y2="332.7" stroke="#1a1a1a" stroke-width="1.1"/>
<text x="375.7" y="335.7" text-anchor="end" font-size="8.8">0</text>
<line x1="383" y1="332.7" x2="383" y2="335.4" stroke="#1a1a1a" stroke-width="1.1"/>
<text x="383" y="345.4" text-anchor="middle" font-size="8.8">0</text>
<line x1="380.3" y1="296.57" x2="383" y2="296.57" stroke="#1a1a1a" stroke-width="1.1"/>
<text x="375.7" y="299.57" text-anchor="end" font-size="8.8">200</text>
<line x1="422.12" y1="332.7" x2="422.12" y2="335.4" stroke="#1a1a1a" stroke-width="1.1"/>
<text x="422.12" y="345.4" text-anchor="middle" font-size="8.8">200</text>
<line x1="380.3" y1="260.45" x2="383" y2="260.45" stroke="#1a1a1a" stroke-width="1.1"/>
<text x="375.7" y="263.45" text-anchor="end" font-size="8.8">400</text>
<line x1="461.25" y1="332.7" x2="461.25" y2="335.4" stroke="#1a1a1a" stroke-width="1.1"/>
<text x="461.25" y="345.4" text-anchor="middle" font-size="8.8">400</text>
<line x1="380.3" y1="224.32" x2="383" y2="224.32" stroke="#1a1a1a" stroke-width="1.1"/>
<text x="375.7" y="227.32" text-anchor="end" font-size="8.8">600</text>
<line x1="500.38" y1="332.7" x2="500.38" y2="335.4" stroke="#1a1a1a" stroke-width="1.1"/>
<text x="500.38" y="345.4" text-anchor="middle" font-size="8.8">600</text>
<line x1="380.3" y1="188.2" x2="383" y2="188.2" stroke="#1a1a1a" stroke-width="1.1"/>
<text x="375.7" y="191.2" text-anchor="end" font-size="8.8">800</text>
<line x1="539.5" y1="332.7" x2="539.5" y2="335.4" stroke="#1a1a1a" stroke-width="1.1"/>
<text x="539.5" y="345.4" text-anchor="middle" font-size="8.8">800</text>
<text x="469.4" y="357.6" text-anchor="middle" font-size="10">Observed peak flows (m<tspan font-size="6.5" dy="-3.5">3</tspan><tspan dy="3.5">/s)</tspan></text>
<text transform="translate(361.9,263) rotate(-90)" text-anchor="middle" font-size="10">Predicted peak flows (m<tspan font-size="6.5" dy="-3.5">3</tspan><tspan dy="3.5">/s)</tspan></text>
<text x="455.7" y="282" font-size="10">R² = 0.9754</text>
<text x="388" y="203.5" font-size="13">(d)</text>
<line x1="383.6" y1="521.3" x2="539.5" y2="377.9" stroke="#111" stroke-width="1.2"/>
<circle cx="421.6" cy="493.52" r="2.1" fill="#0aaef0"/>
<circle cx="412.44" cy="496.03" r="2.1" fill="#0aaef0"/>
<circle cx="413.22" cy="493.52" r="2.1" fill="#0aaef0"/>
<circle cx="406.6" cy="501.4" r="2.1" fill="#0aaef0"/>
<circle cx="406.99" cy="501.04" r="2.1" fill="#0aaef0"/>
<circle cx="400.36" cy="506.06" r="2.1" fill="#0aaef0"/>
<circle cx="406.4" cy="503.91" r="2.1" fill="#0aaef0"/>
<circle cx="421.99" cy="495.67" r="2.1" fill="#0aaef0"/>
<circle cx="401.92" cy="507.14" r="2.1" fill="#0aaef0"/>
<circle cx="410.88" cy="494.05" r="2.1" fill="#0aaef0"/>
<circle cx="406.21" cy="496.74" r="2.1" fill="#0aaef0"/>
<circle cx="403.09" cy="498" r="2.1" fill="#0aaef0"/>
<circle cx="417.12" cy="491.37" r="2.1" fill="#0aaef0"/>
<circle cx="402.11" cy="504.45" r="2.1" fill="#0aaef0"/>
<circle cx="422.58" cy="485.45" r="2.1" fill="#0aaef0"/>
<circle cx="405.04" cy="501.4" r="2.1" fill="#0aaef0"/>
<circle cx="419.65" cy="489.39" r="2.1" fill="#0aaef0"/>
<circle cx="445.96" cy="466.63" r="2.1" fill="#0aaef0"/>
<circle cx="415.36" cy="494.05" r="2.1" fill="#0aaef0"/>
<circle cx="423.94" cy="468.42" r="2.1" fill="#0aaef0"/>
<circle cx="461.94" cy="453.9" r="2.1" fill="#0aaef0"/>
<circle cx="401.92" cy="503.37" r="2.1" fill="#0aaef0"/>
<circle cx="423.55" cy="485.45" r="2.1" fill="#0aaef0"/>
<circle cx="403.48" cy="501.04" r="2.1" fill="#0aaef0"/>
<circle cx="399.19" cy="505.35" r="2.1" fill="#0aaef0"/>
<circle cx="402.11" cy="504.45" r="2.1" fill="#0aaef0"/>
<circle cx="397.83" cy="509.65" r="2.1" fill="#0aaef0"/>
<circle cx="413.81" cy="481.15" r="2.1" fill="#0aaef0"/>
<circle cx="409.32" cy="498.36" r="2.1" fill="#0aaef0"/>
<circle cx="442.26" cy="471.65" r="2.1" fill="#0aaef0"/>
<circle cx="399.77" cy="505.88" r="2.1" fill="#0aaef0"/>
<circle cx="410.49" cy="496.03" r="2.1" fill="#0aaef0"/>
<circle cx="400.36" cy="506.6" r="2.1" fill="#0aaef0"/>
<circle cx="404.65" cy="501.04" r="2.1" fill="#0aaef0"/>
<circle cx="402.5" cy="505.88" r="2.1" fill="#0aaef0"/>
<circle cx="409.91" cy="499.07" r="2.1" fill="#0aaef0"/>
<circle cx="410.49" cy="498.71" r="2.1" fill="#0aaef0"/>
<circle cx="409.91" cy="498.36" r="2.1" fill="#0aaef0"/>
<circle cx="403.67" cy="498.18" r="2.1" fill="#0aaef0"/>
<circle cx="400.55" cy="506.6" r="2.1" fill="#0aaef0"/>
<circle cx="400.94" cy="505.53" r="2.1" fill="#0aaef0"/>
<circle cx="401.53" cy="504.99" r="2.1" fill="#0aaef0"/>
<circle cx="412.83" cy="496.92" r="2.1" fill="#0aaef0"/>
<circle cx="412.05" cy="494.77" r="2.1" fill="#0aaef0"/>
<circle cx="397.63" cy="508.93" r="2.1" fill="#0aaef0"/>
<circle cx="411.08" cy="495.67" r="2.1" fill="#0aaef0"/>
<circle cx="440.89" cy="467.88" r="2.1" fill="#0aaef0"/>
<circle cx="403.09" cy="502.3" r="2.1" fill="#0aaef0"/>
<circle cx="447.52" cy="466.63" r="2.1" fill="#0aaef0"/>
<circle cx="400.55" cy="503.02" r="2.1" fill="#0aaef0"/>
<circle cx="398.02" cy="508.57" r="2.1" fill="#0aaef0"/>
<circle cx="401.92" cy="505.88" r="2.1" fill="#0aaef0"/>
<circle cx="417.7" cy="477.2" r="2.1" fill="#0aaef0"/>
<circle cx="434.46" cy="481.86" r="2.1" fill="#0aaef0"/>
<circle cx="400.94" cy="506.96" r="2.1" fill="#0aaef0"/>
<circle cx="399.58" cy="506.24" r="2.1" fill="#0aaef0"/>
<circle cx="446.35" cy="480.97" r="2.1" fill="#0aaef0"/>
<circle cx="424.91" cy="483.84" r="2.1" fill="#0aaef0"/>
<circle cx="401.14" cy="506.24" r="2.1" fill="#0aaef0"/>
<circle cx="417.7" cy="483.84" r="2.1" fill="#0aaef0"/>
<circle cx="493.51" cy="403.53" r="2.1" fill="#0aaef0"/>
<circle cx="421.99" cy="477.74" r="2.1" fill="#0aaef0"/>
<circle cx="413.61" cy="494.41" r="2.1" fill="#0aaef0"/>
<circle cx="413.61" cy="499.97" r="2.1" fill="#0aaef0"/>
<circle cx="433.49" cy="472.54" r="2.1" fill="#0aaef0"/>
<circle cx="405.43" cy="505.88" r="2.1" fill="#0aaef0"/>
<circle cx="417.9" cy="487.24" r="2.1" fill="#0aaef0"/>
<circle cx="404.45" cy="503.02" r="2.1" fill="#0aaef0"/>
<circle cx="428.81" cy="477.74" r="2.1" fill="#0aaef0"/>
<line x1="397.63" y1="508.66" x2="493.51" y2="421.28" stroke="#000" stroke-width="2.8" stroke-dasharray="4.2 5.6" stroke-linecap="round"/>
<rect x="383.6" y="377.9" width="155.9" height="143.4" fill="none" stroke="#1a1a1a" stroke-width="1.3"/>
<line x1="380.9" y1="521.3" x2="383.6" y2="521.3" stroke="#1a1a1a" stroke-width="1.1"/>
<text x="376.3" y="524.3" text-anchor="end" font-size="8.8">0</text>
<line x1="383.6" y1="521.3" x2="383.6" y2="524" stroke="#1a1a1a" stroke-width="1.1"/>
<text x="383.6" y="533.6" text-anchor="middle" font-size="8.8">0</text>
<line x1="380.9" y1="485.45" x2="383.6" y2="485.45" stroke="#1a1a1a" stroke-width="1.1"/>
<text x="376.3" y="488.45" text-anchor="end" font-size="8.8">200</text>
<line x1="422.58" y1="521.3" x2="422.58" y2="524" stroke="#1a1a1a" stroke-width="1.1"/>
<text x="422.58" y="533.6" text-anchor="middle" font-size="8.8">200</text>
<line x1="380.9" y1="449.6" x2="383.6" y2="449.6" stroke="#1a1a1a" stroke-width="1.1"/>
<text x="376.3" y="452.6" text-anchor="end" font-size="8.8">400</text>
<line x1="461.55" y1="521.3" x2="461.55" y2="524" stroke="#1a1a1a" stroke-width="1.1"/>
<text x="461.55" y="533.6" text-anchor="middle" font-size="8.8">400</text>
<line x1="380.9" y1="413.75" x2="383.6" y2="413.75" stroke="#1a1a1a" stroke-width="1.1"/>
<text x="376.3" y="416.75" text-anchor="end" font-size="8.8">600</text>
<line x1="500.52" y1="521.3" x2="500.52" y2="524" stroke="#1a1a1a" stroke-width="1.1"/>
<text x="500.52" y="533.6" text-anchor="middle" font-size="8.8">600</text>
<line x1="380.9" y1="377.9" x2="383.6" y2="377.9" stroke="#1a1a1a" stroke-width="1.1"/>
<text x="376.3" y="380.9" text-anchor="end" font-size="8.8">800</text>
<line x1="539.5" y1="521.3" x2="539.5" y2="524" stroke="#1a1a1a" stroke-width="1.1"/>
<text x="539.5" y="533.6" text-anchor="middle" font-size="8.8">800</text>
<text x="467.3" y="545" text-anchor="middle" font-size="10">Observed peak flows (m<tspan font-size="6.5" dy="-3.5">3</tspan><tspan dy="3.5">/s)</tspan></text>
<text transform="translate(361.9,455) rotate(-90)" text-anchor="middle" font-size="10">Predicted peak flows (m<tspan font-size="6.5" dy="-3.5">3</tspan><tspan dy="3.5">/s)</tspan></text>
<text x="456.6" y="481.9" font-size="10">R² = 0.9026</text>
<text x="388.6" y="393.2" font-size="13">(f)</text>
</svg></body></html>
